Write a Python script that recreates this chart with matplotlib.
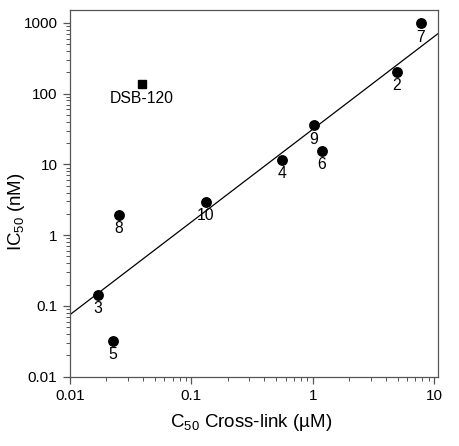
import matplotlib
matplotlib.use("Agg")
import matplotlib.pyplot as plt
import numpy as np
from matplotlib.ticker import LogLocator, FixedLocator, FixedFormatter, NullFormatter

plt.rcParams["font.family"] = ["Liberation Sans", "DejaVu Sans"]
plt.rcParams["mathtext.fontset"] = "custom"
plt.rcParams["mathtext.rm"] = "Liberation Sans"
plt.rcParams["mathtext.default"] = "rm"

# compounds (circles)
labels = ["2", "3", "4", "5", "6", "7", "8", "9", "10"]
crosslink = [4.93, 0.0171, 0.556, 0.0225, 1.19, 7.78, 0.0254, 1.026, 0.1316]
ic50 = [201, 0.144, 11.5, 0.032, 15.6, 980, 1.92, 35.5, 2.96]

# reference compound (square)
ref_label = "DSB-120"
ref_crosslink = 0.0394
ref_ic50 = 139

# regression line in log-log space
fit_slope = 1.31
fit_log_intercept = 1.496

xticks = [0.01, 0.1, 1, 10]
xtick_labels = ["0.01", "0.1", "1", "10"]
yticks = [0.01, 0.1, 1, 10, 100, 1000]
ytick_labels = ["0.01", "0.1", "1", "10", "100", "1000"]

xlim = (0.01, 10.7)
ylim = (0.01, 1520)

fig = plt.figure(figsize=(4.6, 4.46), dpi=100)
ax = fig.add_axes([0.152, 0.1554, 0.7995, 0.8222])
ax.set_xscale("log")
ax.set_yscale("log")

xfit = np.array(xlim)
yfit = 10 ** (fit_log_intercept + fit_slope * np.log10(xfit))
ax.plot(xfit, yfit, color="black", lw=0.9)

ax.plot(crosslink, ic50, "o", color="black", markersize=6.8, zorder=3)
ax.plot([ref_crosslink], [ref_ic50], "s", color="black", markersize=5.6, zorder=3)

for lab, xv, yv in zip(labels, crosslink, ic50):
    ax.annotate(lab, (xv, yv), xytext=(0, -4.5), textcoords="offset points",
                ha="center", va="top", fontsize=11.3)
ax.annotate(ref_label, (ref_crosslink, ref_ic50), xytext=(0, -5.5),
            textcoords="offset points", ha="center", va="top", fontsize=11.3)

ax.set_xlim(*xlim)
ax.set_ylim(*ylim)

ax.xaxis.set_major_locator(FixedLocator(xticks))
ax.xaxis.set_major_formatter(FixedFormatter(xtick_labels))
ax.yaxis.set_major_locator(FixedLocator(yticks))
ax.yaxis.set_major_formatter(FixedFormatter(ytick_labels))
ax.xaxis.set_minor_locator(LogLocator(base=10, subs=np.arange(2, 10)))
ax.yaxis.set_minor_locator(LogLocator(base=10, subs=np.arange(2, 10)))
ax.xaxis.set_minor_formatter(NullFormatter())
ax.yaxis.set_minor_formatter(NullFormatter())

frame = "#555555"
for sp in ax.spines.values():
    sp.set_color(frame)
    sp.set_linewidth(0.9)
ax.tick_params(which="both", direction="out", color=frame, labelsize=11,
               top=False, right=False)
ax.tick_params(which="major", length=5, width=0.9, pad=4)
ax.tick_params(which="minor", length=3, width=0.7)

ax.set_xlabel("C$_{50}$ Cross-link (\u00b5M)", fontsize=13.5)
ax.set_ylabel("IC$_{50}$ (nM)", fontsize=13.5)
ax.xaxis.set_label_coords(0.494, -0.095)
ax.yaxis.set_label_coords(-0.118, 0.449)

fig.savefig("out.png", dpi=100)
